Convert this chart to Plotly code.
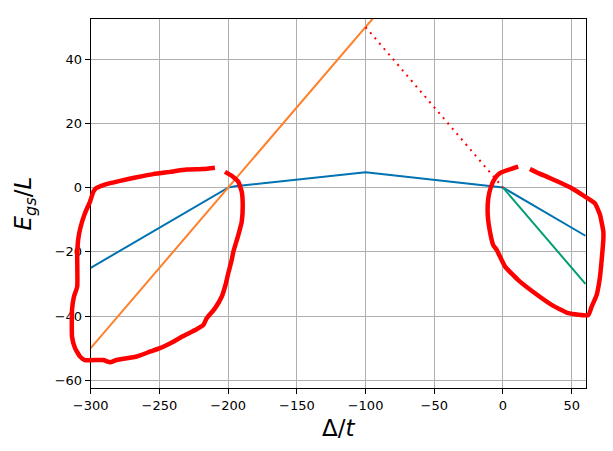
import plotly.graph_objects as go

# ---- data ----
x_ticks = [-300, -250, -200, -150, -100, -50, 0, 50]
y_ticks = [-60, -40, -20, 0, 20, 40]
x_range = [-300, 60.4]
y_range = [-62.5, 52.5]

blue_x = [-300, -200, -195, -100, 0, 60]
blue_y = [-25.0, 0.0, 0.4, 4.8, 0.0, -15.0]

orange_x = [-300, -80]
orange_y = [-50.0, 60.0]

green_x = [0, 60]
green_y = [0.0, -30.0]

dotted_x = [-100, 0]
dotted_y = [50.0, 0.0]

left_loop_x = [-209.6, -218.1, -230.2, -242.3, -254.5, -266.5, -278.7, -290.8, -296.1, -298.1,
               -300.5, -304.2, -307.3, -309.0, -309.8, -309.8, -312.2, -313.6, -313.6, -311.4,
               -307.8, -304.2, -290.8, -286.0, -281.1, -266.5, -256.9, -249.6, -239.9, -232.6,
               -222.9, -218.1, -215.6, -209.6, -204.7, -201.6, -199.9, -197.4, -196.2, -192.6,
               -190.1, -189.4, -190.1, -192.6, -197.4, -202.3]
left_loop_y = [6.2, 5.8, 5.6, 4.9, 4.2, 3.2, 2.1, 0.8, -0.2, -1.3,
               -4.4, -8.0, -12.2, -15.8, -21.0, -30.8, -34.0, -38.1, -46.4, -50.0,
               -52.6, -53.7, -53.7, -54.4, -53.7, -52.6, -51.1, -50.0, -48.0, -46.2,
               -44.1, -42.8, -40.7, -37.6, -34.0, -29.8, -26.7, -22.5, -20.0, -14.8,
               -10.6, -5.4, -1.3, 1.8, 3.7, 4.9]

right_loop_x = [11.1, 3.9, -2.2, -5.8, -8.7, -10.7, -11.1, -9.5, -7.1, -4.6,
                1.5, 11.1, 23.3, 35.4, 47.5, 62.1, 64.5, 68.2, 70.6, 71.8,
                73.0, 73.0, 70.6, 66.9, 59.7, 50.0, 40.2, 31.8, 25.7, 19.6]
right_loop_y = [6.5, 5.5, 4.5, 2.9, 0.3, -3.3, -8.5, -13.7, -17.9, -19.4,
                -24.6, -28.8, -32.9, -36.5, -39.1, -39.7, -37.1, -33.4, -27.7, -22.5,
                -16.3, -13.7, -8.5, -4.9, -2.8, -0.2, 1.8, 3.4, 4.5, 5.8]

# ---- layout geometry ----
W, H = 613, 451
xd = [90.7 / W, 586.0 / W]
yd = [1 - 388.3 / H, 1 - 19.0 / H]


def full_range(r, d):
    k = (r[1] - r[0]) / (d[1] - d[0])
    return [r[0] - d[0] * k, r[1] + (1 - d[1]) * k]


FONT = "DejaVu Sans"
fig = go.Figure()

fig.add_trace(go.Scatter(x=blue_x, y=blue_y, mode="lines",
                         line=dict(color="#0173b2", width=2), showlegend=False))
fig.add_trace(go.Scatter(x=orange_x, y=orange_y, mode="lines",
                         line=dict(color="#ff7f2a", width=2), showlegend=False))
fig.add_trace(go.Scatter(x=green_x, y=green_y, mode="lines",
                         line=dict(color="#029e73", width=2), showlegend=False))
fig.add_trace(go.Scatter(x=dotted_x, y=dotted_y, mode="lines",
                         line=dict(color="#ff0000", width=2, dash="2px,5px"), showlegend=False))

for lx, ly in [(left_loop_x, left_loop_y), (right_loop_x, right_loop_y)]:
    fig.add_trace(go.Scatter(x=lx, y=ly, mode="lines", xaxis="x2", yaxis="y2",
                             line=dict(color="#ff0000", width=4.5, shape="spline", smoothing=0.4),
                             showlegend=False))

axis_common = dict(
    showline=True, mirror=True, linecolor="black", linewidth=1,
    ticks="outside", ticklen=5, tickwidth=1, tickcolor="black",
    showgrid=True, gridcolor="#b0b0b0", gridwidth=1, zeroline=False,
    tickfont=dict(family=FONT, size=13, color="black"), automargin=False,
)

fig.update_layout(
    width=W, height=H,
    margin=dict(l=0, r=0, t=0, b=0),
    paper_bgcolor="white", plot_bgcolor="rgba(0,0,0,0)",
    xaxis=dict(domain=xd, range=x_range, tickvals=x_ticks, anchor="y",
               title=dict(text="Δ/<i>t</i>", font=dict(family=FONT, size=23, color="black"),
                          standoff=7),
               **axis_common),
    yaxis=dict(domain=yd, range=y_range, tickvals=y_ticks, anchor="x",
               title=dict(text="<i>E</i><sub><i>gs</i></sub>/<i>L</i>",
                          font=dict(family=FONT, size=23, color="black"), standoff=16),
               **axis_common),
    xaxis2=dict(domain=[0, 1], range=full_range(x_range, xd), anchor="y2", visible=False),
    yaxis2=dict(domain=[0, 1], range=full_range(y_range, yd), anchor="x2", visible=False),
)

fig.write_html("out.html", config={"displayModeBar": False},
               post_script="document.body.style.margin='0';document.body.style.overflow='hidden';")
